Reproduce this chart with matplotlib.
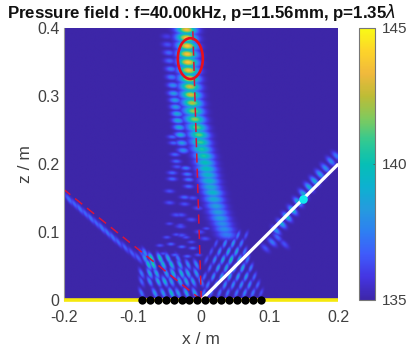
#!/usr/bin/env python3
"""Pressure field of a 16 element array, drawn from lobes read off the picture."""
import numpy as np
import matplotlib
matplotlib.use("Agg")
import matplotlib.pyplot as plt
from matplotlib.colors import LinearSegmentedColormap
from matplotlib.patches import Ellipse

plt.rcParams['font.family'] = ['Liberation Sans', 'DejaVu Sans']

# main steered lobe, top to bottom
main_x = [-.021, -.021, -.020, -.020, -.019, -.018, -.017, -.016, -.015, -.013, -.011, -.009,
          -.006, -.003, -.001, .001, .004, .006, .008, .010, .012, .014, .017,
          .019, .022, .025, .028, .031, .034, .037]
main_z = [.398, .386, .374, .362, .350, .338, .326, .314, .302, .290, .278, .266,
          .254, .243, .232, .222, .212, .202, .193, .184, .175, .166, .158, .148,
          .138, .129, .120, .112, .104, .096]
main_db = [143.5, 143.8, 144, 143.8, 144, 143.6, 143.8, 143, 143, 142.5, 142, 142,
           141.5, 141.5, 141, 140.5, 140.5, 140, 140, 139.5, 139.5, 139, 139.5,
           139, 138.5, 138.5, 138.5, 138, 138, 137.5]

# weaker lobe left of the main one
side_x = [-.050, -.049, -.047, -.046, -.044, -.043, -.041, -.040, -.038, -.037, -.035, -.034,
          -.032, -.030, -.028, -.026]
side_z = [.388, .376, .364, .352, .340, .328, .316, .304, .294, .284, .274, .264,
          .254, .243, .231, .220]
side_db = [136, 136.5, 137, 137, 137.5, 137.5, 138, 138.5, 138.5, 138.5, 139, 139,
           139, 139, 138.5, 138]

# faint columns below the side lobe, near the red line
cols_x = [-.042, -.040, -.038, -.036, -.035, -.042, -.042, -.046, -.046, -.022, -.020, -.018,
          -.018, -.024, -.024, -.029, -.030, -.012, -.004, -.036, -.028, -.014, -.002, .006]
cols_z = [.240, .231, .214, .204, .196, .187, .178, .160, .143, .194, .185, .177,
          .167, .151, .141, .125, .108, .150, .135, .125, .095, .118, .100, .090]
cols_db = [137, 137, 137, 137, 136.5, 137, 137, 136.5, 136.5, 137.5, 137.5, 137.5,
           137, 137, 136.5, 136.5, 136.5, 136.5, 136.5, 136.5, 136.5, 136.5, 136.5, 136.5]

# grating lobe on the left, just under the red line
left_x = [-.193, -.185, -.177, -.169, -.161, -.153, -.145, -.137, -.129, -.121, -.111, -.101, -.092]
left_z = [.148, .141, .134, .127, .120, .113, .106, .099, .092, .085, .077, .069, .062]
left_db = [137.3, 137, 137.3, 137, 137.3, 137, 137.5, 137.3, 137.3, 137, 136.8, 136.8, 136.8]

# grating lobe on the right, crossing the white line
right_x = [.198, .190, .182, .174, .166, .158, .150, .142, .134, .126, .118, .110, .104, .094, .112, .122]
right_z = [.212, .204, .194, .185, .175, .166, .156, .144, .132, .122, .112, .102, .085, .076, .092, .082]
right_db = [137.5, 138, 138, 138.5, 139, 139, 139, 139.5, 139.8, 139.8, 139, 138, 137.5, 136.5, 137, 136.5]

# lattice under the left lobe
fanl_x = [-.087, -.0676, -.0554, -.0433, -.0335, -.0214, -.009,
          -.087, -.075, -.0627, -.053, -.0433, -.031, -.0214, -.0116, .000,
          -.087, -.075, -.065, -.0506, -.0408, -.0287, -.019, -.0068,
          -.077, -.070, -.0554, -.0433, -.031, -.019, -.0068,
          -.082, -.0725, -.060, -.048, -.0335,
          -.087, -.082]
fanl_z = [.010, .010, .010, .010, .010, .010, .010,
          .027, .027, .027, .027, .027, .027, .027, .027, .027,
          .039, .039, .039, .039, .039, .039, .039, .039,
          .052, .052, .052, .052, .052, .052, .052,
          .061, .061, .061, .061, .061,
          .069, .069]
fanl_db = [137.5, 138.5, 138.5, 140, 138.5, 139, 139,
           137, 138, 139, 139.5, 138.5, 139, 139, 138.5, 138,
           137.5, 139, 139, 138.5, 139.5, 139.5, 139, 138.5,
           140, 141, 139.5, 139.5, 138.5, 138, 138,
           138.5, 141, 140.5, 139, 137.5,
           136.5, 138]

# lattice on the right of the axis
fanr_x = [.004, .015, .027, .039, .052, .064, .076, .088,
          .010, .022, .035, .047, .059, .071, .083,
          .005, .018, .030, .042, .054, .066, .078,
          .013, .025, .037, .049, .061, .073,
          .008, .020, .032, .044, .056, .068,
          .015, .027, .040, .052, .064,
          .022, .035, .047, .059,
          .030, .042, .054, .066]
fanr_z = [.010, .010, .010, .010, .010, .010, .010, .010,
          .022, .022, .022, .022, .022, .022, .022,
          .034, .034, .034, .034, .034, .034, .034,
          .047, .047, .047, .047, .047, .047,
          .059, .059, .059, .059, .059, .059,
          .071, .071, .071, .071, .071,
          .083, .083, .083, .083,
          .095, .095, .095, .095]
fanr_db = [137.5, 137, 137.5, 137.5, 137.5, 138, 137.5, 136.5,
           137.5, 138, 138, 138, 138, 138, 137,
           137, 138, 138.5, 138.5, 138.5, 138.5, 137,
           137, 138.5, 139, 139, 139, 137.5,
           136.5, 138, 139, 140.5, 139, 137.5,
           136.5, 138, 139, 139, 137.5,
           136.5, 138, 138.5, 137.5,
           136.5, 137.5, 137.5, 136.5]

# scattered faint lobes between the beams
faint_x = [-.050, -.036, -.022, -.060, -.044, -.028, -.012, -.055, -.038, -.020, -.004, -.046, -.030, -.014, .008]
faint_z = [.092, .096, .092, .080, .082, .078, .076, .068, .066, .064, .066, .112, .110, .085, .105]
faint_db = [136.5, 136.5, 136.5, 136.5, 137, 137, 137, 136.5, 137, 137, 136.5, 136.3, 136.3, 136.5, 136.5]

elem_x = [-.0867, -.0751, -.0636, -.0520, -.0405, -.0289, -.0173, -.0058,
          .0058, .0173, .0289, .0405, .0520, .0636, .0751, .0867]

# parula colormap anchors
parula = ["#3d26a8", "#4435e2", "#3f5bfb", "#2e7ff2", "#259bde", "#0db1d0", "#06bfb5",
          "#30c993", "#7fca5e", "#bdbc36", "#f0b93c", "#fdd42a", "#f9fb15"]
cmap = LinearSegmentedColormap.from_list("parula", parula)

gx, gz = np.meshgrid(np.linspace(-.2, .2, 500), np.linspace(0, .4, 500))
field = np.full(gx.shape, 135.0)


def add_lobes(xs, zs, dbs, sx, sz, angle):
    # each lobe is an elongated spot, sx along the long side
    global field
    t = np.deg2rad(angle)
    for x, z, db in zip(xs, zs, dbs):
        u = (gx - x) * np.cos(t) + (gz - z) * np.sin(t)
        v = -(gx - x) * np.sin(t) + (gz - z) * np.cos(t)
        field = np.maximum(field, 135 + (db - 135) * np.exp(-(u / sx) ** 2 - (v / sz) ** 2))


add_lobes(main_x, main_z, main_db, .0135, .0065, -5)
add_lobes(side_x, side_z, side_db, .0075, .0038, -5)
add_lobes(cols_x, cols_z, cols_db, .0065, .0028, -3)
add_lobes(left_x, left_z, left_db, .0090, .0028, -55)
add_lobes(right_x, right_z, right_db, .0075, .0036, -45)
add_lobes(fanl_x, fanl_z, fanl_db, .0072, .0026, -65)
add_lobes(fanr_x, fanr_z, fanr_db, .0064, .0023, 68)
add_lobes(faint_x, faint_z, faint_db, .0050, .0022, 0)

fig = plt.figure(figsize=(4.12, 3.54), dpi=100)
ax = fig.add_axes([64.3 / 412, 54 / 354, 274 / 412, 272 / 354])
cax = fig.add_axes([358.5 / 412, 54 / 354, 16.5 / 412, 272 / 354])

im = ax.imshow(field, origin="lower", extent=[-.2, .2, 0, .4], cmap=cmap,
               vmin=135, vmax=145, aspect="auto", interpolation="bilinear")

ax.plot([0, -.2], [0, .162], color="#d8143c", lw=1.1, ls=(0, (6, 4)))
ax.plot([0, -.0125], [0, .4], color="#d8143c", lw=1.1, ls=(0, (6, 4)))
ax.plot([0, .2], [0, .2], color="white", lw=2.3, solid_capstyle="butt")
ax.plot([.148], [.148], "o", color="#12e8ee", ms=6.2, mec="none")
ax.plot([-.2, .2], [0, 0], color="#f5e80c", lw=2.6, clip_on=False, solid_capstyle="butt", zorder=4)
ax.plot(elem_x, np.zeros(len(elem_x)), "o", color="black", ms=6.0, mec="none", clip_on=False, zorder=5)
ax.add_patch(Ellipse((-.016, .355), .0365, .060, fill=False, edgecolor="#e8101c", lw=1.9))

ax.set_xlim(-.2, .2)
ax.set_ylim(0, .4)
ax.set_xticks([-.2, -.1, 0, .1, .2], ["-0.2", "-0.1", "0", "0.1", "0.2"])
ax.set_yticks([0, .1, .2, .3, .4], ["0", "0.1", "0.2", "0.3", "0.4"])
ax.tick_params(axis="x", length=0, labelsize=11.5, labelcolor="#404040", pad=7.5)
ax.tick_params(axis="y", length=0, labelsize=11.5, labelcolor="#404040", pad=3.5)
ax.set_xlabel("x / m", fontsize=12.5, color="#404040", labelpad=5)
ax.set_ylabel("z / m", fontsize=12.5, color="#404040", labelpad=3)
for s in ("top", "right", "bottom"):
    ax.spines[s].set_visible(False)
ax.spines["left"].set_color("#999999")
ax.set_title(r"Pressure field : f=40.00kHz, p=11.56mm, p=1.35$\lambda$",
             fontsize=12.2, fontweight="bold", color="#111111", pad=7.5)

cb = fig.colorbar(im, cax=cax, ticks=[135, 140, 145])
cb.ax.tick_params(direction="in", length=1.5, width=.6, color="#555555",
                  labelsize=11, labelcolor="#404040", pad=5)
cb.outline.set_edgecolor("#777777")
cb.outline.set_linewidth(.8)

fig.savefig("out.png", dpi=100)
